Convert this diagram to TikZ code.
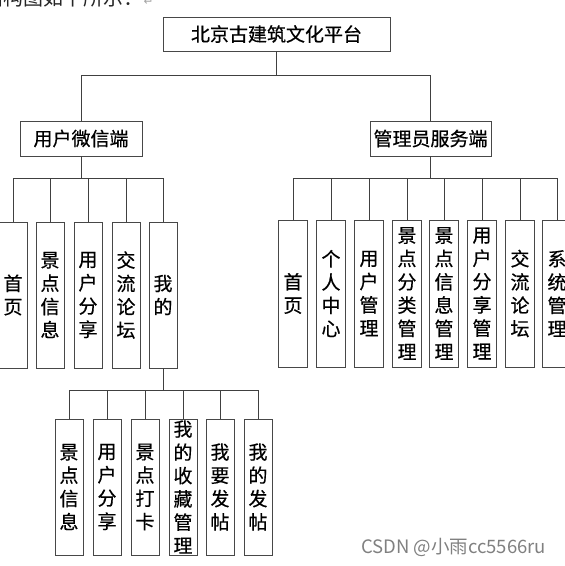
\documentclass[tikz,border=0pt]{standalone}
\usepackage{fontspec}
\newfontfamily\cjk[FakeBold=0.5]{Noto Sans CJK SC}
\newfontfamily\cjklight{Noto Sans CJK SC}
\newfontfamily\dejavu{DejaVu Sans}
\begin{document}
\begin{tikzpicture}[x=1pt,y=-1pt,
  box/.style={draw=black!72, line width=0.9pt, fill=white, inner sep=0pt,
    font=\cjk\fontsize{19}{23.3}\selectfont},
  midbox/.style={box, minimum height=35pt},
  leaf/.style={box, minimum width=29pt, align=center},
  conn/.style={draw=black!75, line width=0.8pt}]
\useasboundingbox (0,0) rectangle (565,566);
\begin{scope}
\clip (0,0) rectangle (565,566);
% cropped caption at the top
\node[anchor=base west, inner sep=0pt, text=black!85, font=\cjklight\fontsize{20}{20}\selectfont] (cap) at (-17,5.5) {结构图如下所示：};
\node[anchor=base west, inner sep=0pt, text=black!35, font=\dejavu\fontsize{12}{12}\selectfont] (ret) at (143.5,5.5) {↵};
% root
\node[box, minimum width=227pt, minimum height=34pt] (top) at (276.5,34) {北京古建筑文化平台};
\node[midbox, minimum width=122pt] (user) at (81,138.5) {用户微信端};
\node[midbox, minimum width=121pt] (admin) at (430.5,138.5) {管理员服务端};
% user leaves
\node[leaf, minimum width=28pt, minimum height=146pt] (u1) at (13,295) {首\\页};
\node[leaf, minimum width=28pt, minimum height=146pt] (u2) at (50,295) {景\\点\\信\\息};
\node[leaf, minimum width=28pt, minimum height=146pt] (u3) at (88,295) {用\\户\\分\\享};
\node[leaf, minimum width=28pt, minimum height=146pt] (u4) at (126,295) {交\\流\\论\\坛};
\node[leaf, minimum width=28pt, minimum height=146pt] (u5) at (163,295) {我\\的};
% admin leaves
\node[leaf, minimum height=147pt] (a1) at (293,293.5) {首\\页};
\node[leaf, minimum height=147pt] (a2) at (331,293.5) {个\\人\\中\\心};
\node[leaf, minimum height=147pt] (a3) at (369,293.5) {用\\户\\管\\理};
\node[leaf, minimum height=147pt] (a4) at (407,293.5) {景\\点\\分\\类\\管\\理};
\node[leaf, minimum height=147pt] (a5) at (444,293.5) {景\\点\\信\\息\\管\\理};
\node[leaf, minimum height=147pt] (a6) at (482,293.5) {用\\户\\分\\享\\管\\理};
\node[leaf, minimum height=147pt] (a7) at (520,293.5) {交\\流\\论\\坛};
\node[leaf, minimum height=147pt] (a8) at (557,293.5) {系\\统\\管\\理};
% "我的" leaves
\node[leaf, minimum width=28pt, minimum height=136pt] (m1) at (69,487) {景\\点\\信\\息};
\node[leaf, minimum width=28pt, minimum height=136pt] (m2) at (107,487) {用\\户\\分\\享};
\node[leaf, minimum width=28pt, minimum height=136pt] (m3) at (145,487) {景\\点\\打\\卡};
\node[leaf, minimum width=28pt, minimum height=136pt] (m4) at (183,487) {我\\的\\收\\藏\\管\\理};
\node[leaf, minimum width=28pt, minimum height=136pt] (m5) at (220,487) {我\\要\\发\\帖};
\node[leaf, minimum width=28pt, minimum height=136pt] (m6) at (258,487) {我\\的\\发\\帖};
% connectors
\draw[conn] (top.south) -- ++(0,24) -| (user.north);
\draw[conn] (top.south) -- ++(0,24) -| (admin.north);
\foreach \n in {u1,u2,u3,u4,u5}
  \draw[conn] (user.south) -- ++(0,21.5) -| (\n.north);
\foreach \n in {a1,a2,a3,a4,a5,a6,a7,a8}
  \draw[conn] (admin.south) -- ++(0,21.5) -| (\n.north);
\foreach \n in {m1,m2,m3,m4,m5,m6}
  \draw[conn] (u5.south) -- ++(0,22) -| (\n.north);
% watermark
\node[anchor=west, inner sep=0pt, text=black!50, font=\cjklight\fontsize{18.5}{18.5}\selectfont] (wm) at (361,547) {CSDN @小雨cc5566ru};
\end{scope}
\end{tikzpicture}
\end{document}
